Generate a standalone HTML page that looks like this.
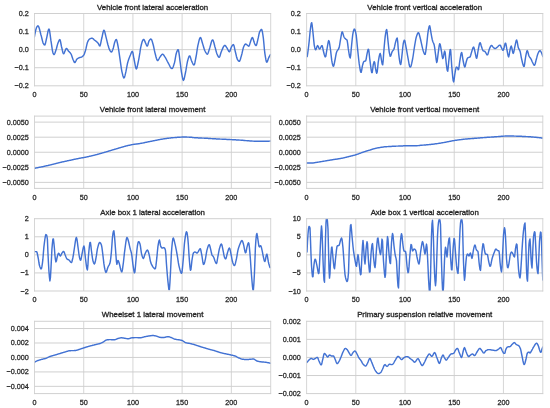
<!DOCTYPE html>
<html lang="en"><head><meta charset="utf-8"><title>Vehicle dynamics signals</title>
<style>
html,body{margin:0;padding:0;background:#fff;}
body{width:550px;height:408px;overflow:hidden;}
svg text{font-family:"Liberation Sans",Arial,Helvetica,sans-serif;fill:#262626;stroke:#262626;stroke-width:0.28px;}
svg text.t{stroke-width:0.32px;}
</style></head><body>
<svg width="550" height="408" viewBox="0 0 550 408" style="display:block">
<rect width="550" height="408" fill="#fff"/>
<defs>
<clipPath id="c1"><rect x="34.50" y="13.50" width="236.20" height="72.30"/></clipPath>
<clipPath id="c2"><rect x="306.60" y="13.50" width="236.20" height="72.30"/></clipPath>
<clipPath id="c3"><rect x="34.50" y="116.10" width="236.20" height="72.30"/></clipPath>
<clipPath id="c4"><rect x="306.60" y="116.10" width="236.20" height="72.30"/></clipPath>
<clipPath id="c5"><rect x="34.50" y="218.70" width="236.20" height="72.30"/></clipPath>
<clipPath id="c6"><rect x="306.60" y="218.70" width="236.20" height="72.30"/></clipPath>
<clipPath id="c7"><rect x="34.50" y="321.30" width="236.20" height="72.30"/></clipPath>
<clipPath id="c8"><rect x="306.60" y="321.30" width="236.20" height="72.30"/></clipPath>
</defs>
<path d="M83.71 13.50V85.80M132.92 13.50V85.80M182.12 13.50V85.80M231.33 13.50V85.80" stroke="#cdcdcd" stroke-width="0.82" fill="none"/>
<path d="M34.50 31.57H270.70M34.50 49.65H270.70M34.50 67.73H270.70" stroke="#cdcdcd" stroke-width="0.95" fill="none"/>
<path d="M34.4 37.0L34.9 34.0L35.4 31.5L35.9 29.5L36.4 27.9L36.9 26.8L37.4 26.1L37.9 25.8L38.4 26.1L38.9 27.2L39.4 28.8L39.9 30.8L40.4 32.8L40.9 34.7L41.4 36.4L41.9 38.5L42.4 40.6L42.9 42.4L43.4 43.7L43.9 44.4L44.4 44.9L44.9 45.0L45.4 43.6L45.9 41.3L46.4 39.0L46.9 36.8L47.4 34.3L47.9 31.8L48.4 29.9L48.9 29.0L49.4 29.9L49.9 32.8L50.4 36.6L50.9 40.4L51.4 43.6L51.9 47.2L52.4 50.5L52.9 52.7L53.4 53.9L53.9 54.6L54.4 54.3L54.9 53.3L55.4 51.8L55.9 50.3L56.4 48.7L56.9 46.8L57.4 44.9L57.9 43.3L58.4 42.0L58.9 40.8L59.4 39.9L59.9 39.6L60.4 41.0L60.9 43.5L61.4 46.2L61.9 48.2L62.4 50.5L62.9 52.5L63.4 53.7L63.9 53.6L64.4 52.5L64.9 51.2L65.4 50.1L65.9 48.9L66.4 48.4L66.9 48.7L67.4 49.4L67.9 50.2L68.4 51.0L68.9 51.6L69.4 52.1L69.9 52.6L70.4 53.1L70.9 53.8L71.4 54.8L71.9 56.3L72.4 57.8L72.9 59.2L73.4 60.3L73.9 61.5L74.4 62.3L74.9 62.6L75.4 62.0L75.9 61.0L76.4 59.9L76.9 59.1L77.4 58.7L77.9 58.3L78.4 58.1L78.9 57.8L79.4 57.7L79.9 57.5L80.4 57.4L80.9 57.3L81.4 57.1L81.9 56.9L82.4 56.5L82.9 56.1L83.4 55.6L83.9 54.9L84.4 53.8L84.9 52.3L85.4 50.7L85.9 48.9L86.4 46.7L86.9 44.4L87.4 42.5L87.9 41.4L88.4 40.4L88.9 39.7L89.4 39.1L89.9 38.8L90.4 38.6L90.9 38.4L91.4 38.3L91.9 38.2L92.4 38.3L92.9 38.6L93.4 39.1L93.9 39.6L94.4 40.0L94.9 40.4L95.4 40.7L95.9 41.1L96.4 41.5L96.9 41.9L97.4 42.4L97.9 43.0L98.4 43.7L98.9 44.6L99.4 45.6L99.9 46.0L100.4 44.7L100.9 42.3L101.4 39.8L101.9 37.8L102.4 35.4L102.9 33.0L103.4 31.1L103.9 30.2L104.4 30.7L104.9 32.3L105.4 34.5L105.9 36.6L106.4 38.6L106.9 40.7L107.4 42.8L107.9 44.7L108.4 46.3L108.9 48.0L109.4 49.4L109.9 50.4L110.4 51.2L110.9 51.8L111.4 52.0L111.9 51.6L112.4 50.5L112.9 49.3L113.4 47.7L113.9 45.5L114.4 43.3L114.9 41.7L115.4 40.5L115.9 39.6L116.4 39.5L116.9 40.8L117.4 43.0L117.9 45.5L118.4 48.1L118.9 51.4L119.4 54.9L119.9 58.3L120.4 61.8L120.9 65.4L121.4 68.8L121.9 71.6L122.4 73.7L122.9 75.7L123.4 77.2L123.9 78.0L124.4 77.5L124.9 75.9L125.4 73.8L125.9 71.7L126.4 69.1L126.9 66.3L127.4 63.8L127.9 61.9L128.4 60.3L128.9 58.8L129.4 57.5L129.9 56.2L130.4 55.0L130.9 53.7L131.4 52.6L131.9 51.7L132.4 51.4L132.9 52.7L133.4 55.6L133.9 58.5L134.4 61.0L134.9 63.7L135.4 66.3L135.9 68.2L136.4 69.0L136.9 68.1L137.4 65.9L137.9 63.5L138.4 61.1L138.9 58.6L139.4 55.7L139.9 52.7L140.4 49.0L140.9 46.7L141.4 44.5L141.9 42.6L142.4 41.1L142.9 40.0L143.4 39.5L143.9 39.5L144.4 40.3L144.9 41.4L145.4 42.6L145.9 43.7L146.4 45.0L146.9 46.0L147.4 46.1L147.9 44.7L148.4 42.7L148.9 41.2L149.4 40.4L149.9 39.7L150.4 39.2L150.9 39.0L151.4 39.3L151.9 40.4L152.4 42.0L152.9 43.7L153.4 45.5L153.9 47.9L154.4 50.4L154.9 52.6L155.4 54.5L155.9 56.5L156.4 58.3L156.9 59.7L157.4 60.5L157.9 60.5L158.4 59.9L158.9 59.0L159.4 58.0L159.9 57.1L160.4 56.5L160.9 55.7L161.4 55.1L161.9 54.5L162.4 54.2L162.9 54.3L163.4 54.7L163.9 55.3L164.4 56.1L164.9 56.9L165.4 57.6L165.9 58.5L166.4 59.5L166.9 60.5L167.4 61.5L167.9 62.4L168.4 63.3L168.9 64.3L169.4 65.3L169.9 66.3L170.4 67.1L170.9 67.9L171.4 68.4L171.9 68.6L172.4 68.4L172.9 67.5L173.4 66.2L173.9 64.6L174.4 63.0L174.9 60.8L175.4 57.9L175.9 55.0L176.4 53.0L176.9 51.6L177.4 50.5L177.9 49.7L178.4 49.9L178.9 52.3L179.4 56.2L179.9 60.3L180.4 64.0L180.9 68.1L181.4 71.8L181.9 74.7L182.4 77.4L182.9 79.5L183.4 80.4L183.9 79.7L184.4 77.8L184.9 75.4L185.4 73.0L185.9 70.4L186.4 67.4L186.9 64.3L187.4 61.8L187.9 59.9L188.4 58.2L188.9 56.7L189.4 55.9L189.9 56.0L190.4 57.2L190.9 58.9L191.4 60.5L191.9 61.6L192.4 62.8L192.9 63.8L193.4 64.6L193.9 65.0L194.4 64.5L194.9 62.7L195.4 60.1L195.9 57.5L196.4 54.8L196.9 51.5L197.4 48.2L197.9 45.4L198.4 43.3L198.9 41.1L199.4 39.2L199.9 37.9L200.4 37.4L200.9 38.0L201.4 39.5L201.9 41.3L202.4 43.0L202.9 44.6L203.4 46.3L203.9 48.0L204.4 49.6L204.9 50.8L205.4 51.8L205.9 52.7L206.4 53.4L206.9 54.0L207.4 54.2L207.9 53.6L208.4 52.3L208.9 50.6L209.4 49.0L209.9 47.4L210.4 45.6L210.9 43.7L211.4 41.9L211.9 40.6L212.4 39.9L212.9 40.0L213.4 41.1L213.9 42.8L214.4 44.8L214.9 46.7L215.4 48.4L215.9 50.4L216.4 52.3L216.9 53.8L217.4 54.9L217.9 55.9L218.4 56.8L218.9 57.3L219.4 57.3L219.9 56.2L220.4 54.5L220.9 52.8L221.4 51.5L221.9 50.3L222.4 49.1L222.9 47.9L223.4 46.9L223.9 46.1L224.4 45.5L224.9 45.4L225.4 45.7L225.9 46.3L226.4 47.1L226.9 47.9L227.4 48.7L227.9 49.7L228.4 50.7L228.9 51.5L229.4 51.8L229.9 51.2L230.4 49.8L230.9 48.2L231.4 47.0L231.9 46.2L232.4 45.4L232.9 44.8L233.4 44.6L233.9 45.4L234.4 47.4L234.9 49.8L235.4 52.0L235.9 54.0L236.4 56.2L236.9 58.1L237.4 59.4L237.9 60.2L238.4 60.9L238.9 61.3L239.4 61.3L239.9 60.5L240.4 59.2L240.9 57.4L241.4 55.7L241.9 53.9L242.4 51.7L242.9 49.4L243.4 47.5L243.9 46.3L244.4 45.3L244.9 44.5L245.4 44.0L245.9 44.1L246.4 44.4L246.9 44.8L247.4 45.3L247.9 45.6L248.4 46.1L248.9 46.2L249.4 45.2L249.9 43.6L250.4 42.0L250.9 40.6L251.4 39.1L251.9 37.9L252.4 37.4L252.9 38.1L253.4 39.7L253.9 41.6L254.4 43.0L254.9 44.1L255.4 45.1L255.9 45.6L256.4 45.2L256.9 43.6L257.4 41.5L257.9 39.4L258.4 37.2L258.9 34.6L259.4 32.5L259.9 31.4L260.4 30.5L260.9 29.8L261.4 29.4L261.9 29.8L262.4 31.9L262.9 35.0L263.4 38.5L263.9 43.8L264.4 49.5L264.9 53.6L265.4 56.9L265.9 59.7L266.4 61.7L266.9 62.2L267.4 61.4L267.9 60.0L268.4 58.5L268.9 57.4L269.4 56.4L269.9 55.5L270.4 54.6" stroke="#4272d3" stroke-width="1.45" fill="none" stroke-linejoin="round" stroke-linecap="round" clip-path="url(#c1)"/>
<path d="M34.50 13.05V86.25M270.70 13.05V86.25" fill="none" stroke="#cdcdcd" stroke-width="0.82"/>
<path d="M34.10 13.50H271.10M34.10 85.80H271.10" fill="none" stroke="#cdcdcd" stroke-width="0.95"/>
<text transform="translate(28.70 16.00) scale(0.95 1)" text-anchor="end" font-size="7.6">0.2</text>
<text transform="translate(28.70 34.08) scale(0.95 1)" text-anchor="end" font-size="7.6">0.1</text>
<text transform="translate(28.70 52.15) scale(0.95 1)" text-anchor="end" font-size="7.6">0.0</text>
<text transform="translate(28.70 70.23) scale(0.95 1)" text-anchor="end" font-size="7.6">−0.1</text>
<text transform="translate(28.70 88.30) scale(0.95 1)" text-anchor="end" font-size="7.6">−0.2</text>
<text transform="translate(34.50 97.10) scale(0.95 1)" text-anchor="middle" font-size="7.6">0</text>
<text transform="translate(83.71 97.10) scale(0.95 1)" text-anchor="middle" font-size="7.6">50</text>
<text transform="translate(132.92 97.10) scale(0.95 1)" text-anchor="middle" font-size="7.6">100</text>
<text transform="translate(182.12 97.10) scale(0.95 1)" text-anchor="middle" font-size="7.6">150</text>
<text transform="translate(231.33 97.10) scale(0.95 1)" text-anchor="middle" font-size="7.6">200</text>
<text transform="translate(152.60 9.60) scale(1.0 1)" text-anchor="middle" class="t" font-size="7.85">Vehicle front lateral acceleration</text>
<path d="M355.81 13.50V85.80M405.02 13.50V85.80M454.23 13.50V85.80M503.43 13.50V85.80" stroke="#cdcdcd" stroke-width="0.82" fill="none"/>
<path d="M306.60 31.57H542.80M306.60 49.65H542.80M306.60 67.73H542.80" stroke="#cdcdcd" stroke-width="0.95" fill="none"/>
<path d="M307.2 56.6L307.7 53.3L308.2 49.6L308.7 45.6L309.2 41.1L309.7 35.7L310.2 30.6L310.7 26.8L311.2 23.6L311.7 22.7L312.2 25.5L312.7 30.2L313.2 34.8L313.7 40.1L314.2 44.8L314.7 47.4L315.2 49.2L315.7 49.8L316.2 48.9L316.7 47.4L317.2 46.0L317.7 45.6L318.2 46.3L318.7 47.6L319.2 48.6L319.7 49.0L320.2 48.5L320.7 47.5L321.2 46.5L321.7 45.7L322.2 45.8L322.7 47.6L323.2 50.3L323.7 52.3L324.2 54.2L324.7 55.9L325.2 56.9L325.7 56.5L326.2 54.0L326.7 50.7L327.2 47.9L327.7 44.9L328.2 42.1L328.7 40.6L329.2 41.4L329.7 44.2L330.2 47.7L330.7 51.3L331.2 55.9L331.7 60.2L332.2 62.9L332.7 65.0L333.2 66.3L333.7 66.0L334.2 64.1L334.7 61.5L335.2 59.0L335.7 56.2L336.2 53.5L336.7 51.8L337.2 50.8L337.7 50.1L338.2 49.5L338.7 48.7L339.2 47.3L339.7 44.6L340.2 41.3L340.7 38.5L341.2 35.6L341.7 32.9L342.2 31.8L342.7 32.6L343.2 34.4L343.7 36.3L344.2 37.3L344.7 38.0L345.2 38.6L345.7 39.1L346.2 39.4L346.7 39.7L347.2 40.6L347.7 43.8L348.2 48.2L348.7 51.5L349.2 54.5L349.7 57.0L350.2 58.0L350.7 55.2L351.2 49.4L351.7 44.1L352.2 39.2L352.7 34.8L353.2 32.1L353.7 30.2L354.2 29.1L354.7 29.2L355.2 30.6L355.7 32.6L356.2 35.2L356.7 39.6L357.2 45.0L357.7 49.9L358.2 54.8L358.7 59.5L359.2 63.7L359.7 66.9L360.2 70.0L360.7 72.2L361.2 72.3L361.7 70.1L362.2 66.9L362.7 64.7L363.2 63.0L363.7 61.7L364.2 61.3L364.7 61.2L365.2 61.1L365.7 60.9L366.2 58.8L366.7 55.6L367.2 53.1L367.7 50.8L368.2 49.2L368.7 49.8L369.2 53.7L369.7 58.6L370.2 62.4L370.7 66.4L371.2 70.1L371.7 72.5L372.2 72.6L372.7 69.1L373.2 65.0L373.7 62.9L374.2 61.6L374.7 62.3L375.2 66.2L375.7 69.5L376.2 71.9L376.7 73.3L377.2 71.9L377.7 67.3L378.2 62.4L378.7 59.3L379.2 56.5L379.7 54.3L380.2 53.4L380.7 55.1L381.2 58.6L381.7 61.5L382.2 64.0L382.7 64.8L383.2 60.3L383.7 52.9L384.2 46.8L384.7 41.2L385.2 36.4L385.7 33.1L386.2 30.3L386.7 29.5L387.2 32.7L387.7 38.1L388.2 42.8L388.7 47.6L389.2 51.8L389.7 54.4L390.2 56.2L390.7 56.1L391.2 54.6L391.7 52.8L392.2 51.6L392.7 50.9L393.2 50.3L393.7 49.6L394.2 48.4L394.7 46.2L395.2 43.6L395.7 41.7L396.2 40.0L396.7 38.6L397.2 38.0L397.7 41.5L398.2 48.5L398.7 53.8L399.2 57.8L399.7 61.4L400.2 63.9L400.7 64.5L401.2 62.0L401.7 57.6L402.2 53.2L402.7 48.0L403.2 44.0L403.7 41.7L404.2 40.2L404.7 40.4L405.2 42.5L405.7 45.4L406.2 48.0L406.7 50.7L407.2 53.6L407.7 56.4L408.2 59.1L408.7 62.0L409.2 64.8L409.7 66.6L410.2 67.0L410.7 66.8L411.2 65.5L411.7 63.4L412.2 61.0L412.7 58.5L413.2 55.5L413.7 52.0L414.2 48.5L414.7 45.4L415.2 42.5L415.7 39.7L416.2 37.4L416.7 35.7L417.2 34.4L417.7 33.3L418.2 32.7L418.7 32.9L419.2 34.1L419.7 36.0L420.2 38.0L420.7 40.0L421.2 42.4L421.7 44.7L422.2 46.8L422.7 48.9L423.2 50.8L423.7 52.3L424.2 53.5L424.7 54.4L425.2 54.3L425.7 51.9L426.2 48.1L426.7 44.2L427.2 39.6L427.7 34.7L428.2 31.0L428.7 28.3L429.2 26.2L429.7 25.7L430.2 27.8L430.7 31.2L431.2 34.1L431.7 36.8L432.2 39.4L432.7 41.3L433.2 42.5L433.7 43.5L434.2 45.0L434.7 47.9L435.2 52.0L435.7 55.7L436.2 59.8L436.7 62.5L437.2 61.2L437.7 57.1L438.2 53.0L438.7 49.3L439.2 45.7L439.7 43.7L440.2 44.4L440.7 46.9L441.2 49.9L441.7 52.8L442.2 56.3L442.7 58.5L443.2 57.8L443.7 55.4L444.2 52.6L444.7 51.1L445.2 52.8L445.7 58.0L446.2 63.0L446.7 66.9L447.2 70.3L447.7 71.3L448.2 67.7L448.7 61.9L449.2 57.3L449.7 52.6L450.2 49.4L450.7 50.6L451.2 57.9L451.7 65.9L452.2 71.4L452.7 76.8L453.2 80.8L453.7 81.9L454.2 79.2L454.7 75.0L455.2 71.9L455.7 69.1L456.2 67.2L456.7 67.1L457.2 67.5L457.7 68.2L458.2 69.7L458.7 69.2L459.2 65.6L459.7 61.6L460.2 58.6L460.7 55.5L461.2 53.1L461.7 52.5L462.2 54.7L462.7 58.3L463.2 61.0L463.7 63.5L464.2 65.8L464.7 67.0L465.2 66.3L465.7 64.1L466.2 62.0L466.7 60.3L467.2 58.7L467.7 57.9L468.2 57.7L468.7 57.5L469.2 57.4L469.7 57.2L470.2 56.7L470.7 55.3L471.2 53.4L471.7 51.7L472.2 50.1L472.7 48.5L473.2 47.3L473.7 47.0L474.2 48.4L474.7 50.7L475.2 52.9L475.7 55.4L476.2 57.7L476.7 58.3L477.2 56.4L477.7 53.0L478.2 50.0L478.7 47.4L479.2 44.8L479.7 43.0L480.2 42.7L480.7 43.9L481.2 45.7L481.7 47.3L482.2 48.8L482.7 50.1L483.2 50.8L483.7 51.0L484.2 51.2L484.7 51.4L485.2 51.8L485.7 52.6L486.2 53.5L486.7 54.4L487.2 54.9L487.7 54.7L488.2 53.3L488.7 51.4L489.2 49.5L489.7 48.3L490.2 47.1L490.7 46.1L491.2 45.5L491.7 45.5L492.2 45.9L492.7 46.6L493.2 47.2L493.7 47.7L494.2 48.2L494.7 48.5L495.2 48.6L495.7 48.4L496.2 48.0L496.7 47.6L497.2 47.2L497.7 46.8L498.2 46.3L498.7 45.8L499.2 45.3L499.7 45.1L500.2 45.1L500.7 45.9L501.2 47.1L501.7 48.2L502.2 49.3L502.7 50.2L503.2 50.3L503.7 49.1L504.2 47.2L504.7 45.1L505.2 43.1L505.7 43.1L506.2 45.4L506.7 48.4L507.2 51.0L507.7 53.8L508.2 56.2L508.7 56.9L509.2 54.8L509.7 51.6L510.2 49.2L510.7 47.0L511.2 46.0L511.7 47.2L512.2 49.7L512.7 52.2L513.2 53.4L513.7 52.4L514.2 50.1L514.7 47.4L515.2 45.1L515.7 42.7L516.2 40.6L516.7 40.1L517.2 41.7L517.7 44.6L518.2 47.3L518.7 48.7L519.2 49.5L519.7 50.3L520.2 51.7L520.7 54.2L521.2 57.1L521.7 59.4L522.2 61.5L522.7 63.6L523.2 65.3L523.7 66.4L524.2 66.3L524.7 63.5L525.2 59.6L525.7 56.5L526.2 53.8L526.7 51.6L527.2 50.6L527.7 51.4L528.2 53.3L528.7 55.2L529.2 56.4L529.7 57.2L530.2 57.8L530.7 58.5L531.2 59.4L531.7 60.5L532.2 61.8L532.7 62.8L533.2 63.8L533.7 64.8L534.2 65.3L534.7 65.1L535.2 63.8L535.7 61.8L536.2 59.7L536.7 57.9L537.2 55.9L537.7 54.2L538.2 53.0L538.7 52.0L539.2 51.2L539.7 50.7L540.2 50.7L540.7 51.2L541.2 52.2L541.7 53.2L542.2 54.6L542.7 56.2L542.8 56.6" stroke="#4272d3" stroke-width="1.45" fill="none" stroke-linejoin="round" stroke-linecap="round" clip-path="url(#c2)"/>
<path d="M306.60 13.05V86.25M542.80 13.05V86.25" fill="none" stroke="#cdcdcd" stroke-width="0.82"/>
<path d="M306.20 13.50H543.20M306.20 85.80H543.20" fill="none" stroke="#cdcdcd" stroke-width="0.95"/>
<text transform="translate(300.80 16.00) scale(0.95 1)" text-anchor="end" font-size="7.6">0.2</text>
<text transform="translate(300.80 34.08) scale(0.95 1)" text-anchor="end" font-size="7.6">0.1</text>
<text transform="translate(300.80 52.15) scale(0.95 1)" text-anchor="end" font-size="7.6">0.0</text>
<text transform="translate(300.80 70.23) scale(0.95 1)" text-anchor="end" font-size="7.6">−0.1</text>
<text transform="translate(300.80 88.30) scale(0.95 1)" text-anchor="end" font-size="7.6">−0.2</text>
<text transform="translate(306.60 97.10) scale(0.95 1)" text-anchor="middle" font-size="7.6">0</text>
<text transform="translate(355.81 97.10) scale(0.95 1)" text-anchor="middle" font-size="7.6">50</text>
<text transform="translate(405.02 97.10) scale(0.95 1)" text-anchor="middle" font-size="7.6">100</text>
<text transform="translate(454.23 97.10) scale(0.95 1)" text-anchor="middle" font-size="7.6">150</text>
<text transform="translate(503.43 97.10) scale(0.95 1)" text-anchor="middle" font-size="7.6">200</text>
<text transform="translate(424.70 9.60) scale(1.0 1)" text-anchor="middle" class="t" font-size="7.85">Vehicle front vertical acceleration</text>
<path d="M83.71 116.10V188.40M132.92 116.10V188.40M182.12 116.10V188.40M231.33 116.10V188.40" stroke="#cdcdcd" stroke-width="0.82" fill="none"/>
<path d="M34.50 122.12H270.70M34.50 137.19H270.70M34.50 152.25H270.70M34.50 167.31H270.70M34.50 182.38H270.70" stroke="#cdcdcd" stroke-width="0.95" fill="none"/>
<path d="M34.5 168.3L35.0 168.2L35.5 168.1L36.0 168.0L36.5 167.9L37.0 167.8L37.5 167.7L38.0 167.6L38.5 167.5L39.0 167.4L39.5 167.3L40.0 167.2L40.5 167.1L41.0 167.0L41.5 166.9L42.0 166.8L42.5 166.7L43.0 166.6L43.5 166.5L44.0 166.3L44.5 166.2L45.0 166.1L45.5 166.0L46.0 165.9L46.5 165.8L47.0 165.7L47.5 165.6L48.0 165.5L48.5 165.3L49.0 165.2L49.5 165.1L50.0 165.0L50.5 164.9L51.0 164.8L51.5 164.6L52.0 164.5L52.5 164.4L53.0 164.3L53.5 164.1L54.0 164.0L54.5 163.9L55.0 163.8L55.5 163.6L56.0 163.5L56.5 163.4L57.0 163.2L57.5 163.1L58.0 163.0L58.5 162.9L59.0 162.7L59.5 162.6L60.0 162.5L60.5 162.4L61.0 162.3L61.5 162.2L62.0 162.0L62.5 161.9L63.0 161.8L63.5 161.7L64.0 161.6L64.5 161.5L65.0 161.4L65.5 161.3L66.0 161.2L66.5 161.1L67.0 160.9L67.5 160.8L68.0 160.7L68.5 160.6L69.0 160.5L69.5 160.4L70.0 160.3L70.5 160.2L71.0 160.1L71.5 160.0L72.0 159.9L72.5 159.8L73.0 159.7L73.5 159.5L74.0 159.4L74.5 159.3L75.0 159.2L75.5 159.1L76.0 159.0L76.5 158.9L77.0 158.8L77.5 158.7L78.0 158.6L78.5 158.5L79.0 158.4L79.5 158.3L80.0 158.2L80.5 158.1L81.0 158.0L81.5 157.9L82.0 157.8L82.5 157.8L83.0 157.7L83.5 157.6L84.0 157.5L84.5 157.4L85.0 157.3L85.5 157.2L86.0 157.1L86.5 157.0L87.0 156.9L87.5 156.8L88.0 156.7L88.5 156.6L89.0 156.4L89.5 156.3L90.0 156.2L90.5 156.1L91.0 156.0L91.5 155.9L92.0 155.7L92.5 155.6L93.0 155.5L93.5 155.4L94.0 155.3L94.5 155.1L95.0 155.0L95.5 154.9L96.0 154.7L96.5 154.6L97.0 154.5L97.5 154.3L98.0 154.2L98.5 154.1L99.0 153.9L99.5 153.8L100.0 153.6L100.5 153.5L101.0 153.4L101.5 153.2L102.0 153.1L102.5 152.9L103.0 152.8L103.5 152.6L104.0 152.5L104.5 152.3L105.0 152.2L105.5 152.1L106.0 151.9L106.5 151.8L107.0 151.6L107.5 151.5L108.0 151.3L108.5 151.2L109.0 151.0L109.5 150.9L110.0 150.7L110.5 150.6L111.0 150.4L111.5 150.3L112.0 150.1L112.5 149.9L113.0 149.8L113.5 149.6L114.0 149.5L114.5 149.3L115.0 149.2L115.5 149.1L116.0 148.9L116.5 148.8L117.0 148.6L117.5 148.5L118.0 148.3L118.5 148.2L119.0 148.0L119.5 147.9L120.0 147.7L120.5 147.6L121.0 147.4L121.5 147.3L122.0 147.1L122.5 147.0L123.0 146.8L123.5 146.7L124.0 146.6L124.5 146.4L125.0 146.3L125.5 146.2L126.0 146.0L126.5 145.9L127.0 145.8L127.5 145.7L128.0 145.5L128.5 145.4L129.0 145.3L129.5 145.2L130.0 145.1L130.5 145.0L131.0 144.8L131.5 144.7L132.0 144.6L132.5 144.6L133.0 144.5L133.5 144.4L134.0 144.3L134.5 144.2L135.0 144.2L135.5 144.1L136.0 144.0L136.5 144.0L137.0 143.9L137.5 143.9L138.0 143.8L138.5 143.7L139.0 143.7L139.5 143.6L140.0 143.5L140.5 143.4L141.0 143.3L141.5 143.2L142.0 143.1L142.5 143.1L143.0 143.0L143.5 142.9L144.0 142.8L144.5 142.7L145.0 142.5L145.5 142.4L146.0 142.3L146.5 142.2L147.0 142.1L147.5 142.0L148.0 141.9L148.5 141.8L149.0 141.7L149.5 141.6L150.0 141.5L150.5 141.4L151.0 141.3L151.5 141.2L152.0 141.1L152.5 141.0L153.0 140.9L153.5 140.8L154.0 140.7L154.5 140.6L155.0 140.5L155.5 140.4L156.0 140.3L156.5 140.2L157.0 140.1L157.5 140.0L158.0 139.9L158.5 139.8L159.0 139.7L159.5 139.6L160.0 139.5L160.5 139.4L161.0 139.3L161.5 139.2L162.0 139.2L162.5 139.1L163.0 139.0L163.5 138.9L164.0 138.8L164.5 138.8L165.0 138.7L165.5 138.6L166.0 138.5L166.5 138.4L167.0 138.4L167.5 138.3L168.0 138.2L168.5 138.2L169.0 138.1L169.5 138.1L170.0 138.0L170.5 137.9L171.0 137.9L171.5 137.8L172.0 137.8L172.5 137.7L173.0 137.7L173.5 137.6L174.0 137.6L174.5 137.6L175.0 137.5L175.5 137.5L176.0 137.4L176.5 137.4L177.0 137.4L177.5 137.3L178.0 137.3L178.5 137.3L179.0 137.2L179.5 137.2L180.0 137.2L180.5 137.1L181.0 137.1L181.5 137.1L182.0 137.0L182.5 137.0L183.0 137.0L183.5 137.0L184.0 137.0L184.5 137.0L185.0 137.0L185.5 137.0L186.0 137.0L186.5 137.0L187.0 137.1L187.5 137.1L188.0 137.1L188.5 137.1L189.0 137.1L189.5 137.2L190.0 137.2L190.5 137.2L191.0 137.3L191.5 137.3L192.0 137.4L192.5 137.4L193.0 137.5L193.5 137.6L194.0 137.6L194.5 137.7L195.0 137.7L195.5 137.7L196.0 137.8L196.5 137.8L197.0 137.8L197.5 137.8L198.0 137.9L198.5 137.9L199.0 137.9L199.5 137.9L200.0 138.0L200.5 138.0L201.0 138.0L201.5 138.0L202.0 138.1L202.5 138.1L203.0 138.1L203.5 138.1L204.0 138.1L204.5 138.2L205.0 138.2L205.5 138.2L206.0 138.3L206.5 138.3L207.0 138.3L207.5 138.3L208.0 138.4L208.5 138.4L209.0 138.4L209.5 138.5L210.0 138.5L210.5 138.5L211.0 138.6L211.5 138.6L212.0 138.6L212.5 138.7L213.0 138.7L213.5 138.7L214.0 138.7L214.5 138.8L215.0 138.8L215.5 138.8L216.0 138.9L216.5 138.9L217.0 138.9L217.5 138.9L218.0 139.0L218.5 139.0L219.0 139.0L219.5 139.0L220.0 139.1L220.5 139.1L221.0 139.1L221.5 139.1L222.0 139.2L222.5 139.2L223.0 139.2L223.5 139.2L224.0 139.3L224.5 139.3L225.0 139.3L225.5 139.3L226.0 139.3L226.5 139.4L227.0 139.4L227.5 139.4L228.0 139.4L228.5 139.5L229.0 139.5L229.5 139.5L230.0 139.5L230.5 139.6L231.0 139.6L231.5 139.6L232.0 139.6L232.5 139.7L233.0 139.7L233.5 139.7L234.0 139.7L234.5 139.8L235.0 139.8L235.5 139.8L236.0 139.9L236.5 139.9L237.0 139.9L237.5 139.9L238.0 140.0L238.5 140.0L239.0 140.0L239.5 140.1L240.0 140.1L240.5 140.1L241.0 140.2L241.5 140.2L242.0 140.2L242.5 140.3L243.0 140.3L243.5 140.4L244.0 140.4L244.5 140.5L245.0 140.5L245.5 140.6L246.0 140.6L246.5 140.6L247.0 140.7L247.5 140.7L248.0 140.8L248.5 140.8L249.0 140.8L249.5 140.9L250.0 140.9L250.5 140.9L251.0 141.0L251.5 141.0L252.0 141.0L252.5 141.1L253.0 141.1L253.5 141.1L254.0 141.2L254.5 141.2L255.0 141.2L255.5 141.2L256.0 141.3L256.5 141.3L257.0 141.3L257.5 141.3L258.0 141.3L258.5 141.3L259.0 141.3L259.5 141.3L260.0 141.3L260.5 141.3L261.0 141.3L261.5 141.3L262.0 141.3L262.5 141.3L263.0 141.3L263.5 141.3L264.0 141.3L264.5 141.3L265.0 141.3L265.5 141.3L266.0 141.3L266.5 141.3L267.0 141.2L267.5 141.2L268.0 141.2L268.5 141.2L269.0 141.1L269.5 141.1L270.0 141.1L270.5 141.0L270.7 141.0" stroke="#4272d3" stroke-width="1.45" fill="none" stroke-linejoin="round" stroke-linecap="round" clip-path="url(#c3)"/>
<path d="M34.50 115.65V188.85M270.70 115.65V188.85" fill="none" stroke="#cdcdcd" stroke-width="0.82"/>
<path d="M34.10 116.10H271.10M34.10 188.40H271.10" fill="none" stroke="#cdcdcd" stroke-width="0.95"/>
<text transform="translate(28.70 124.62) scale(0.95 1)" text-anchor="end" font-size="7.6">0.0050</text>
<text transform="translate(28.70 139.69) scale(0.95 1)" text-anchor="end" font-size="7.6">0.0025</text>
<text transform="translate(28.70 154.75) scale(0.95 1)" text-anchor="end" font-size="7.6">0.0000</text>
<text transform="translate(28.70 169.81) scale(0.95 1)" text-anchor="end" font-size="7.6">−0.0025</text>
<text transform="translate(28.70 184.88) scale(0.95 1)" text-anchor="end" font-size="7.6">−0.0050</text>
<text transform="translate(34.50 199.70) scale(0.95 1)" text-anchor="middle" font-size="7.6">0</text>
<text transform="translate(83.71 199.70) scale(0.95 1)" text-anchor="middle" font-size="7.6">50</text>
<text transform="translate(132.92 199.70) scale(0.95 1)" text-anchor="middle" font-size="7.6">100</text>
<text transform="translate(182.12 199.70) scale(0.95 1)" text-anchor="middle" font-size="7.6">150</text>
<text transform="translate(231.33 199.70) scale(0.95 1)" text-anchor="middle" font-size="7.6">200</text>
<text transform="translate(152.60 112.20) scale(1.0 1)" text-anchor="middle" class="t" font-size="7.85">Vehicle front lateral movement</text>
<path d="M355.81 116.10V188.40M405.02 116.10V188.40M454.23 116.10V188.40M503.43 116.10V188.40" stroke="#cdcdcd" stroke-width="0.82" fill="none"/>
<path d="M306.60 122.12H542.80M306.60 137.19H542.80M306.60 152.25H542.80M306.60 167.31H542.80M306.60 182.38H542.80" stroke="#cdcdcd" stroke-width="0.95" fill="none"/>
<path d="M306.6 163.0L307.1 163.0L307.6 163.0L308.1 163.0L308.6 163.0L309.1 163.0L309.6 163.0L310.1 163.0L310.6 163.0L311.1 163.0L311.6 163.0L312.1 163.0L312.6 163.0L313.1 162.9L313.6 162.9L314.1 162.8L314.6 162.7L315.1 162.6L315.6 162.5L316.1 162.5L316.6 162.4L317.1 162.3L317.6 162.2L318.1 162.1L318.6 162.1L319.1 162.0L319.6 161.9L320.1 161.8L320.6 161.7L321.1 161.6L321.6 161.6L322.1 161.5L322.6 161.4L323.1 161.3L323.6 161.2L324.1 161.1L324.6 161.1L325.1 161.0L325.6 160.9L326.1 160.8L326.6 160.7L327.1 160.6L327.6 160.5L328.1 160.5L328.6 160.4L329.1 160.3L329.6 160.2L330.1 160.1L330.6 160.0L331.1 159.9L331.6 159.9L332.1 159.8L332.6 159.7L333.1 159.6L333.6 159.5L334.1 159.5L334.6 159.4L335.1 159.3L335.6 159.2L336.1 159.2L336.6 159.1L337.1 159.0L337.6 158.9L338.1 158.9L338.6 158.8L339.1 158.7L339.6 158.6L340.1 158.5L340.6 158.5L341.1 158.4L341.6 158.3L342.1 158.2L342.6 158.1L343.1 158.0L343.6 157.9L344.1 157.8L344.6 157.6L345.1 157.5L345.6 157.4L346.1 157.3L346.6 157.2L347.1 157.0L347.6 156.9L348.1 156.8L348.6 156.7L349.1 156.5L349.6 156.4L350.1 156.3L350.6 156.2L351.1 156.0L351.6 155.9L352.1 155.8L352.6 155.7L353.1 155.5L353.6 155.4L354.1 155.3L354.6 155.1L355.1 155.0L355.6 154.8L356.1 154.7L356.6 154.5L357.1 154.3L357.6 154.1L358.1 154.0L358.6 153.8L359.1 153.6L359.6 153.4L360.1 153.3L360.6 153.1L361.1 152.9L361.6 152.7L362.1 152.5L362.6 152.3L363.1 152.2L363.6 152.0L364.1 151.8L364.6 151.6L365.1 151.5L365.6 151.3L366.1 151.2L366.6 151.0L367.1 150.9L367.6 150.7L368.1 150.6L368.6 150.4L369.1 150.3L369.6 150.1L370.1 150.0L370.6 149.8L371.1 149.7L371.6 149.5L372.1 149.3L372.6 149.2L373.1 149.0L373.6 148.9L374.1 148.7L374.6 148.6L375.1 148.5L375.6 148.4L376.1 148.2L376.6 148.1L377.1 148.0L377.6 147.9L378.1 147.8L378.6 147.7L379.1 147.7L379.6 147.6L380.1 147.5L380.6 147.4L381.1 147.3L381.6 147.2L382.1 147.2L382.6 147.1L383.1 147.0L383.6 147.0L384.1 146.9L384.6 146.8L385.1 146.8L385.6 146.7L386.1 146.7L386.6 146.7L387.1 146.6L387.6 146.6L388.1 146.6L388.6 146.5L389.1 146.5L389.6 146.5L390.1 146.4L390.6 146.4L391.1 146.4L391.6 146.4L392.1 146.3L392.6 146.3L393.1 146.3L393.6 146.3L394.1 146.2L394.6 146.2L395.1 146.2L395.6 146.2L396.1 146.1L396.6 146.1L397.1 146.1L397.6 146.1L398.1 146.1L398.6 146.0L399.1 146.0L399.6 146.0L400.1 146.0L400.6 145.9L401.1 145.9L401.6 145.9L402.1 145.9L402.6 145.9L403.1 145.9L403.6 145.8L404.1 145.8L404.6 145.8L405.1 145.8L405.6 145.8L406.1 145.8L406.6 145.8L407.1 145.7L407.6 145.7L408.1 145.7L408.6 145.7L409.1 145.7L409.6 145.7L410.1 145.7L410.6 145.7L411.1 145.7L411.6 145.7L412.1 145.7L412.6 145.7L413.1 145.7L413.6 145.7L414.1 145.7L414.6 145.7L415.1 145.7L415.6 145.7L416.1 145.7L416.6 145.7L417.1 145.7L417.6 145.6L418.1 145.6L418.6 145.6L419.1 145.5L419.6 145.4L420.1 145.4L420.6 145.3L421.1 145.3L421.6 145.2L422.1 145.2L422.6 145.1L423.1 145.1L423.6 145.1L424.1 145.0L424.6 145.0L425.1 144.9L425.6 144.9L426.1 144.9L426.6 144.8L427.1 144.8L427.6 144.7L428.1 144.7L428.6 144.6L429.1 144.6L429.6 144.5L430.1 144.5L430.6 144.4L431.1 144.4L431.6 144.3L432.1 144.3L432.6 144.2L433.1 144.2L433.6 144.1L434.1 144.0L434.6 144.0L435.1 143.9L435.6 143.8L436.1 143.8L436.6 143.7L437.1 143.6L437.6 143.6L438.1 143.5L438.6 143.4L439.1 143.3L439.6 143.3L440.1 143.2L440.6 143.1L441.1 143.0L441.6 142.9L442.1 142.8L442.6 142.7L443.1 142.6L443.6 142.6L444.1 142.5L444.6 142.4L445.1 142.3L445.6 142.2L446.1 142.1L446.6 142.0L447.1 141.9L447.6 141.8L448.1 141.7L448.6 141.6L449.1 141.5L449.6 141.4L450.1 141.3L450.6 141.2L451.1 141.1L451.6 141.0L452.1 140.9L452.6 140.8L453.1 140.7L453.6 140.6L454.1 140.6L454.6 140.5L455.1 140.4L455.6 140.3L456.1 140.3L456.6 140.2L457.1 140.1L457.6 140.0L458.1 140.0L458.6 139.9L459.1 139.8L459.6 139.8L460.1 139.7L460.6 139.6L461.1 139.6L461.6 139.5L462.1 139.4L462.6 139.4L463.1 139.3L463.6 139.2L464.1 139.2L464.6 139.1L465.1 139.1L465.6 139.0L466.1 139.0L466.6 139.0L467.1 138.9L467.6 138.9L468.1 138.8L468.6 138.8L469.1 138.7L469.6 138.7L470.1 138.7L470.6 138.6L471.1 138.6L471.6 138.6L472.1 138.5L472.6 138.5L473.1 138.4L473.6 138.4L474.1 138.4L474.6 138.3L475.1 138.3L475.6 138.3L476.1 138.2L476.6 138.2L477.1 138.1L477.6 138.1L478.1 138.0L478.6 138.0L479.1 138.0L479.6 137.9L480.1 137.9L480.6 137.8L481.1 137.8L481.6 137.8L482.1 137.7L482.6 137.7L483.1 137.6L483.6 137.6L484.1 137.6L484.6 137.5L485.1 137.5L485.6 137.5L486.1 137.4L486.6 137.4L487.1 137.3L487.6 137.3L488.1 137.3L488.6 137.2L489.1 137.2L489.6 137.2L490.1 137.1L490.6 137.1L491.1 137.1L491.6 137.0L492.1 137.0L492.6 137.0L493.1 136.9L493.6 136.9L494.1 136.9L494.6 136.8L495.1 136.8L495.6 136.8L496.1 136.7L496.6 136.7L497.1 136.6L497.6 136.6L498.1 136.6L498.6 136.5L499.1 136.5L499.6 136.4L500.1 136.4L500.6 136.4L501.1 136.3L501.6 136.3L502.1 136.2L502.6 136.2L503.1 136.2L503.6 136.1L504.1 136.1L504.6 136.1L505.1 136.0L505.6 136.0L506.1 136.0L506.6 135.9L507.1 135.9L507.6 135.9L508.1 135.9L508.6 135.9L509.1 135.9L509.6 135.9L510.1 135.9L510.6 135.9L511.1 136.0L511.6 136.0L512.1 136.0L512.6 136.0L513.1 136.0L513.6 136.0L514.1 136.1L514.6 136.1L515.1 136.1L515.6 136.1L516.1 136.1L516.6 136.2L517.1 136.2L517.6 136.2L518.1 136.2L518.6 136.2L519.1 136.2L519.6 136.3L520.1 136.3L520.6 136.3L521.1 136.3L521.6 136.3L522.1 136.4L522.6 136.4L523.1 136.4L523.6 136.4L524.1 136.5L524.6 136.5L525.1 136.5L525.6 136.5L526.1 136.6L526.6 136.6L527.1 136.6L527.6 136.6L528.1 136.7L528.6 136.7L529.1 136.7L529.6 136.8L530.1 136.8L530.6 136.8L531.1 136.9L531.6 136.9L532.1 137.0L532.6 137.0L533.1 137.0L533.6 137.1L534.1 137.1L534.6 137.2L535.1 137.2L535.6 137.3L536.1 137.3L536.6 137.4L537.1 137.4L537.6 137.5L538.1 137.5L538.6 137.6L539.1 137.6L539.6 137.7L540.1 137.7L540.6 137.8L541.1 137.9L541.6 137.9L542.1 138.0L542.6 138.1L542.8 138.1" stroke="#4272d3" stroke-width="1.45" fill="none" stroke-linejoin="round" stroke-linecap="round" clip-path="url(#c4)"/>
<path d="M306.60 115.65V188.85M542.80 115.65V188.85" fill="none" stroke="#cdcdcd" stroke-width="0.82"/>
<path d="M306.20 116.10H543.20M306.20 188.40H543.20" fill="none" stroke="#cdcdcd" stroke-width="0.95"/>
<text transform="translate(300.80 124.62) scale(0.95 1)" text-anchor="end" font-size="7.6">0.0050</text>
<text transform="translate(300.80 139.69) scale(0.95 1)" text-anchor="end" font-size="7.6">0.0025</text>
<text transform="translate(300.80 154.75) scale(0.95 1)" text-anchor="end" font-size="7.6">0.0000</text>
<text transform="translate(300.80 169.81) scale(0.95 1)" text-anchor="end" font-size="7.6">−0.0025</text>
<text transform="translate(300.80 184.88) scale(0.95 1)" text-anchor="end" font-size="7.6">−0.0050</text>
<text transform="translate(306.60 199.70) scale(0.95 1)" text-anchor="middle" font-size="7.6">0</text>
<text transform="translate(355.81 199.70) scale(0.95 1)" text-anchor="middle" font-size="7.6">50</text>
<text transform="translate(405.02 199.70) scale(0.95 1)" text-anchor="middle" font-size="7.6">100</text>
<text transform="translate(454.23 199.70) scale(0.95 1)" text-anchor="middle" font-size="7.6">150</text>
<text transform="translate(503.43 199.70) scale(0.95 1)" text-anchor="middle" font-size="7.6">200</text>
<text transform="translate(424.70 112.20) scale(1.0 1)" text-anchor="middle" class="t" font-size="7.85">Vehicle front vertical movement</text>
<path d="M83.71 218.70V291.00M132.92 218.70V291.00M182.12 218.70V291.00M231.33 218.70V291.00" stroke="#cdcdcd" stroke-width="0.82" fill="none"/>
<path d="M34.50 236.77H270.70M34.50 254.85H270.70M34.50 272.92H270.70" stroke="#cdcdcd" stroke-width="0.95" fill="none"/>
<path d="M34.4 251.6L34.9 251.6L35.4 251.6L35.9 251.6L36.4 251.6L36.9 252.0L37.4 254.0L37.9 256.5L38.4 259.2L38.9 262.5L39.4 265.3L39.9 266.8L40.4 268.1L40.9 268.9L41.4 268.8L41.9 266.7L42.4 263.4L42.9 259.2L43.4 252.8L43.9 246.9L44.4 242.8L44.9 239.0L45.4 236.1L45.9 234.6L46.4 234.9L46.9 236.0L47.4 239.4L47.9 251.8L48.4 262.0L48.9 270.7L49.4 276.9L49.9 280.9L50.4 277.9L50.9 269.6L51.4 259.8L51.9 249.4L52.4 243.5L52.9 239.2L53.4 238.9L53.9 243.0L54.4 248.2L54.9 255.0L55.4 259.4L55.9 261.9L56.4 261.0L56.9 258.3L57.4 256.3L57.9 254.5L58.4 253.3L58.9 253.4L59.4 254.4L59.9 255.5L60.4 256.0L60.9 255.4L61.4 254.3L61.9 253.1L62.4 252.5L62.9 251.8L63.4 251.4L63.9 251.6L64.4 252.8L64.9 254.2L65.4 255.5L65.9 256.8L66.4 258.0L66.9 258.9L67.4 259.3L67.9 259.5L68.4 259.7L68.9 259.9L69.4 260.4L69.9 261.1L70.4 261.8L70.9 262.4L71.4 262.6L71.9 261.8L72.4 259.8L72.9 257.5L73.4 254.8L73.9 251.3L74.4 248.0L74.9 244.7L75.4 241.2L75.9 238.5L76.4 237.4L76.9 238.9L77.4 242.4L77.9 246.3L78.4 250.0L78.9 254.0L79.4 257.0L79.9 259.0L80.4 260.3L80.9 259.9L81.4 257.4L81.9 254.5L82.4 252.1L82.9 249.4L83.4 247.2L83.9 246.0L84.4 247.8L84.9 253.0L85.4 258.0L85.9 261.9L86.4 265.8L86.9 268.8L87.4 270.0L87.9 265.2L88.4 256.5L88.9 251.0L89.4 246.1L89.9 242.7L90.4 242.4L90.9 245.8L91.4 250.5L91.9 254.2L92.4 257.8L92.9 260.6L93.4 262.3L93.9 263.5L94.4 264.0L94.9 263.1L95.4 261.0L95.9 258.5L96.4 255.7L96.9 252.1L97.4 248.9L97.9 246.9L98.4 245.1L98.9 243.6L99.4 242.7L99.9 242.4L100.4 242.9L100.9 243.8L101.4 245.0L101.9 247.4L102.4 251.2L102.9 255.2L103.4 259.3L103.9 263.7L104.4 267.0L104.9 269.4L105.4 271.4L105.9 272.4L106.4 272.0L106.9 270.6L107.4 268.8L107.9 267.2L108.4 266.2L108.9 265.4L109.4 264.5L109.9 263.3L110.4 261.0L110.9 256.9L111.4 252.0L111.9 245.1L112.4 237.8L112.9 234.0L113.4 231.4L113.9 230.8L114.4 235.1L114.9 241.1L115.4 247.9L115.9 254.8L116.4 261.4L116.9 264.3L117.4 262.4L117.9 260.5L118.4 260.9L118.9 262.3L119.4 264.0L119.9 266.0L120.4 268.3L120.9 270.0L121.4 271.5L121.9 271.9L122.4 269.9L122.9 266.2L123.4 262.5L123.9 258.0L124.4 253.2L124.9 249.3L125.4 245.5L125.9 241.8L126.4 238.9L126.9 237.4L127.4 237.9L127.9 239.3L128.4 241.0L128.9 243.0L129.4 245.3L129.9 247.6L130.4 249.5L130.9 251.1L131.4 253.0L131.9 255.9L132.4 260.2L132.9 264.3L133.4 267.6L133.9 270.8L134.4 272.8L134.9 272.0L135.4 267.0L135.9 261.0L136.4 255.7L136.9 250.1L137.4 246.0L137.9 243.3L138.4 241.6L138.9 241.6L139.4 242.4L139.9 243.7L140.4 245.9L140.9 249.6L141.4 253.1L141.9 255.1L142.4 256.7L142.9 257.9L143.4 258.4L143.9 257.6L144.4 255.9L144.9 254.2L145.4 253.1L145.9 252.0L146.4 251.0L146.9 250.3L147.4 250.0L147.9 250.6L148.4 252.0L148.9 253.7L149.4 255.8L149.9 258.6L150.4 261.3L150.9 262.9L151.4 264.1L151.9 265.2L152.4 266.0L152.9 266.8L153.4 267.5L153.9 268.1L154.4 268.6L154.9 268.9L155.4 268.7L155.9 265.9L156.4 261.6L156.9 257.2L157.4 251.5L157.9 246.7L158.4 243.6L158.9 241.1L159.4 240.0L159.9 242.0L160.4 245.2L160.9 246.7L161.4 247.5L161.9 248.0L162.4 248.0L162.9 247.8L163.4 247.7L163.9 247.6L164.4 247.8L164.9 248.7L165.4 250.0L165.9 255.0L166.4 263.2L166.9 269.7L167.4 275.8L167.9 281.1L168.4 285.7L168.9 289.6L169.4 289.6L169.9 282.9L170.4 274.0L170.9 263.6L171.4 252.9L171.9 246.7L172.4 241.8L172.9 238.6L173.4 238.1L173.9 239.4L174.4 241.4L174.9 243.6L175.4 245.7L175.9 248.1L176.4 250.7L176.9 253.5L177.4 256.4L177.9 259.7L178.4 262.9L178.9 265.6L179.4 267.6L179.9 269.6L180.4 271.3L180.9 272.6L181.4 273.3L181.9 272.6L182.4 268.7L182.9 263.3L183.4 257.7L183.9 250.5L184.4 243.9L184.9 239.7L185.4 236.2L185.9 233.3L186.4 231.8L186.9 232.2L187.4 235.0L187.9 239.1L188.4 245.2L188.9 253.8L189.4 260.4L189.9 266.3L190.4 270.2L190.9 269.7L191.4 265.4L191.9 260.7L192.4 257.5L192.9 254.6L193.4 253.0L193.9 252.5L194.4 252.2L194.9 252.0L195.4 252.1L195.9 252.4L196.4 252.8L196.9 253.0L197.4 252.8L197.9 252.1L198.4 251.3L198.9 250.5L199.4 249.5L199.9 248.8L200.4 248.8L200.9 250.5L201.4 253.1L201.9 255.6L202.4 259.0L202.9 262.3L203.4 264.4L203.9 264.3L204.4 263.1L204.9 261.2L205.4 259.1L205.9 256.2L206.4 253.0L206.9 250.4L207.4 248.6L207.9 246.9L208.4 245.6L208.9 244.8L209.4 244.8L209.9 246.2L210.4 248.2L210.9 250.3L211.4 252.8L211.9 254.8L212.4 255.6L212.9 256.1L213.4 256.7L213.9 257.7L214.4 259.2L214.9 260.8L215.4 262.0L215.9 263.1L216.4 263.6L216.9 262.4L217.4 259.5L217.9 256.5L218.4 253.9L218.9 251.1L219.4 248.7L219.9 247.1L220.4 245.6L220.9 244.4L221.4 244.0L221.9 244.9L222.4 247.1L222.9 249.6L223.4 252.1L223.9 254.9L224.4 257.0L224.9 258.2L225.4 258.9L225.9 258.7L226.4 257.1L226.9 254.9L227.4 253.0L227.9 251.4L228.4 249.8L228.9 248.5L229.4 248.0L229.9 248.9L230.4 251.1L230.9 253.6L231.4 256.0L231.9 258.8L232.4 261.3L232.9 262.9L233.4 264.2L233.9 265.2L234.4 265.6L234.9 265.0L235.4 263.4L235.9 261.2L236.4 259.0L236.9 256.3L237.4 253.2L237.9 250.4L238.4 248.5L238.9 246.9L239.4 245.5L239.9 244.2L240.4 243.0L240.9 241.9L241.4 240.9L241.9 240.4L242.4 240.9L242.9 242.3L243.4 244.0L243.9 246.1L244.4 248.8L244.9 251.3L245.4 252.8L245.9 252.5L246.4 250.0L246.9 247.4L247.4 245.6L247.9 243.8L248.4 242.7L248.9 243.4L249.4 247.5L249.9 252.9L250.4 259.2L250.9 267.0L251.4 274.0L251.9 280.0L252.4 285.8L252.9 289.7L253.4 289.7L253.9 283.2L254.4 274.0L254.9 261.3L255.4 247.5L255.9 240.1L256.4 235.0L256.9 233.5L257.4 235.9L257.9 239.4L258.4 242.8L258.9 246.2L259.4 246.9L259.9 246.3L260.4 245.7L260.9 245.9L261.4 247.5L261.9 249.6L262.4 251.9L262.9 254.6L263.4 257.0L263.9 259.2L264.4 261.0L264.9 261.5L265.4 260.0L265.9 257.2L266.4 254.8L266.9 254.1L267.4 256.0L267.9 259.2L268.4 262.0L268.9 264.0L269.4 265.8L269.9 267.3L270.0 267.6" stroke="#4272d3" stroke-width="1.45" fill="none" stroke-linejoin="round" stroke-linecap="round" clip-path="url(#c5)"/>
<path d="M34.50 218.25V291.45M270.70 218.25V291.45" fill="none" stroke="#cdcdcd" stroke-width="0.82"/>
<path d="M34.10 218.70H271.10M34.10 291.00H271.10" fill="none" stroke="#cdcdcd" stroke-width="0.95"/>
<text transform="translate(28.70 221.20) scale(0.95 1)" text-anchor="end" font-size="7.6">2</text>
<text transform="translate(28.70 239.27) scale(0.95 1)" text-anchor="end" font-size="7.6">1</text>
<text transform="translate(28.70 257.35) scale(0.95 1)" text-anchor="end" font-size="7.6">0</text>
<text transform="translate(28.70 275.42) scale(0.95 1)" text-anchor="end" font-size="7.6">−1</text>
<text transform="translate(28.70 293.50) scale(0.95 1)" text-anchor="end" font-size="7.6">−2</text>
<text transform="translate(34.50 302.30) scale(0.95 1)" text-anchor="middle" font-size="7.6">0</text>
<text transform="translate(83.71 302.30) scale(0.95 1)" text-anchor="middle" font-size="7.6">50</text>
<text transform="translate(132.92 302.30) scale(0.95 1)" text-anchor="middle" font-size="7.6">100</text>
<text transform="translate(182.12 302.30) scale(0.95 1)" text-anchor="middle" font-size="7.6">150</text>
<text transform="translate(231.33 302.30) scale(0.95 1)" text-anchor="middle" font-size="7.6">200</text>
<text transform="translate(152.60 214.80) scale(1.0 1)" text-anchor="middle" class="t" font-size="7.85">Axle box 1 lateral acceleration</text>
<path d="M355.81 218.70V291.00M405.02 218.70V291.00M454.23 218.70V291.00M503.43 218.70V291.00" stroke="#cdcdcd" stroke-width="0.82" fill="none"/>
<path d="M306.60 236.77H542.80M306.60 254.85H542.80M306.60 272.92H542.80" stroke="#cdcdcd" stroke-width="0.95" fill="none"/>
<path d="M307.0 252.0L307.5 241.4L308.0 234.0L308.5 228.9L309.0 226.4L309.5 226.8L310.0 228.0L310.5 240.5L311.0 254.7L311.5 265.5L312.0 272.2L312.5 276.7L313.0 276.6L313.5 269.6L314.0 264.6L314.5 261.2L315.0 259.2L315.5 259.4L316.0 261.2L316.5 263.6L317.0 265.9L317.5 268.7L318.0 271.6L318.5 273.6L319.0 273.0L319.5 264.8L320.0 254.0L320.5 242.4L321.0 232.0L321.5 225.9L322.0 231.4L322.5 244.5L323.0 259.8L323.5 271.8L324.0 280.1L324.5 282.2L325.0 263.1L325.5 238.2L326.0 222.7L326.5 217.1L327.0 216.6L327.5 221.8L328.0 229.3L328.5 249.1L329.0 269.3L329.5 278.1L330.0 273.3L330.5 261.7L331.0 254.0L331.5 247.7L332.0 247.0L332.5 252.2L333.0 258.0L333.5 263.0L334.0 267.5L334.5 268.8L335.0 264.7L335.5 258.9L336.0 254.3L336.5 249.6L337.0 246.4L337.5 245.8L338.0 245.7L338.5 245.6L339.0 245.4L339.5 244.3L340.0 242.2L340.5 240.3L341.0 238.9L341.5 238.0L342.0 239.3L342.5 243.2L343.0 248.1L343.5 254.9L344.0 262.0L344.5 268.8L345.0 274.6L345.5 277.4L346.0 279.3L346.5 280.8L347.0 281.5L347.5 281.0L348.0 277.9L348.5 272.5L349.0 256.4L349.5 242.0L350.0 232.3L350.5 225.4L351.0 224.6L351.5 229.8L352.0 236.0L352.5 241.3L353.0 246.5L353.5 250.8L354.0 254.2L354.5 257.3L355.0 260.0L355.5 263.0L356.0 265.6L356.5 266.3L357.0 262.7L357.5 257.3L358.0 254.6L358.5 257.2L359.0 262.3L359.5 266.5L360.0 271.2L360.5 274.7L361.0 274.2L361.5 264.7L362.0 254.0L362.5 245.3L363.0 240.4L363.5 245.8L364.0 254.0L364.5 260.4L365.0 264.0L365.5 258.2L366.0 250.0L366.5 245.1L367.0 241.8L367.5 243.6L368.0 253.1L368.5 261.2L369.0 267.4L369.5 272.1L370.0 271.9L370.5 262.9L371.0 254.0L371.5 248.8L372.0 244.7L372.5 243.6L373.0 249.4L373.5 257.0L374.0 261.7L374.5 265.8L375.0 267.6L375.5 263.7L376.0 255.6L376.5 248.9L377.0 243.1L377.5 238.5L378.0 238.0L378.5 241.8L379.0 246.6L379.5 249.8L380.0 252.8L380.5 254.5L381.0 252.1L381.5 245.0L382.0 239.1L382.5 241.0L383.0 252.1L383.5 261.3L384.0 268.0L384.5 273.8L385.0 277.3L385.5 274.9L386.0 263.1L386.5 252.2L387.0 242.7L387.5 236.6L388.0 239.1L388.5 247.0L389.0 254.0L389.5 258.8L390.0 262.8L390.5 263.6L391.0 252.8L391.5 242.7L392.0 236.8L392.5 233.5L393.0 235.2L393.5 240.7L394.0 246.0L394.5 250.0L395.0 253.6L395.5 256.5L396.0 258.1L396.5 260.9L397.0 270.4L397.5 279.4L398.0 286.0L398.5 287.9L399.0 275.9L399.5 261.6L400.0 249.1L400.5 240.9L401.0 236.2L401.5 233.7L402.0 235.7L402.5 241.2L403.0 245.5L403.5 249.1L404.0 251.0L404.5 251.2L405.0 251.3L405.5 251.5L406.0 254.0L406.5 260.4L407.0 266.0L407.5 269.9L408.0 272.7L408.5 272.0L409.0 266.9L409.5 260.0L410.0 254.0L410.5 248.7L411.0 244.5L411.5 244.8L412.0 248.2L412.5 250.9L413.0 250.6L413.5 249.6L414.0 249.0L414.5 249.1L415.0 249.4L415.5 249.9L416.0 251.3L416.5 254.2L417.0 257.0L417.5 259.3L418.0 261.5L418.5 263.3L419.0 264.0L419.5 261.9L420.0 257.2L420.5 252.7L421.0 249.3L421.5 245.9L422.0 243.1L422.5 241.6L423.0 242.7L423.5 245.5L424.0 248.6L424.5 252.2L425.0 254.0L425.5 251.7L426.0 247.2L426.5 244.1L427.0 247.3L427.5 256.2L428.0 266.7L428.5 278.3L429.0 286.4L429.5 292.7L430.0 292.1L430.5 277.3L431.0 255.4L431.5 235.4L432.0 223.8L432.5 220.3L433.0 228.3L433.5 240.6L434.0 258.2L434.5 271.9L435.0 280.9L435.5 285.8L436.0 280.7L436.5 266.7L437.0 251.6L437.5 236.1L438.0 227.3L438.5 222.4L439.0 219.8L439.5 219.0L440.0 220.5L440.5 224.6L441.0 244.0L441.5 262.6L442.0 278.0L442.5 288.7L443.0 294.0L443.5 286.8L444.0 274.0L444.5 260.3L445.0 251.4L445.5 247.2L446.0 249.0L446.5 254.1L447.0 257.0L447.5 253.0L448.0 246.0L448.5 241.8L449.0 238.6L449.5 237.9L450.0 245.8L450.5 256.5L451.0 263.7L451.5 269.7L452.0 269.8L452.5 260.1L453.0 250.0L453.5 243.3L454.0 238.5L454.5 239.3L455.0 245.4L455.5 252.8L456.0 259.1L456.5 265.4L457.0 269.3L457.5 272.2L458.0 273.4L458.5 266.4L459.0 254.0L459.5 241.3L460.0 230.0L460.5 223.2L461.0 220.2L461.5 219.0L462.0 220.3L462.5 224.7L463.0 244.0L463.5 262.0L464.0 273.7L464.5 280.2L465.0 276.5L465.5 267.4L466.0 261.1L466.5 256.4L467.0 254.8L467.5 254.0L468.0 254.4L468.5 255.4L469.0 256.0L469.5 255.1L470.0 253.6L470.5 253.1L471.0 254.7L471.5 257.1L472.0 258.4L472.5 256.4L473.0 252.5L473.5 249.6L474.0 247.4L474.5 245.7L475.0 245.0L475.5 246.3L476.0 248.7L476.5 250.1L477.0 250.6L477.5 250.9L478.0 251.6L478.5 256.1L479.0 262.0L479.5 266.1L480.0 269.5L480.5 270.4L481.0 264.7L481.5 257.1L482.0 251.9L482.5 246.9L483.0 243.7L483.5 244.2L484.0 247.5L484.5 250.5L485.0 252.9L485.5 254.1L486.0 254.2L486.5 254.3L487.0 254.4L487.5 254.7L488.0 257.3L488.5 260.5L489.0 262.8L489.5 264.9L490.0 266.3L490.5 266.0L491.0 264.0L491.5 261.3L492.0 259.0L492.5 257.3L493.0 255.7L493.5 254.3L494.0 253.0L494.5 251.7L495.0 250.4L495.5 249.4L496.0 249.0L496.5 249.3L497.0 250.0L497.5 250.5L498.0 250.6L498.5 250.7L499.0 251.0L499.5 255.1L500.0 262.0L500.5 266.3L501.0 270.0L501.5 271.9L502.0 267.5L502.5 256.0L503.0 245.2L503.5 235.2L504.0 230.4L504.5 227.7L505.0 229.9L505.5 236.6L506.0 246.8L506.5 258.7L507.0 263.9L507.5 267.3L508.0 267.8L508.5 265.9L509.0 263.1L509.5 260.0L510.0 256.1L510.5 253.7L511.0 252.6L511.5 252.0L512.0 252.3L512.5 253.1L513.0 254.0L513.5 255.2L514.0 256.5L514.5 256.9L515.0 253.2L515.5 248.6L516.0 246.0L516.5 244.0L517.0 244.6L517.5 252.8L518.0 261.0L518.5 268.8L519.0 273.5L519.5 276.7L520.0 278.0L520.5 274.4L521.0 266.9L521.5 259.3L522.0 250.4L522.5 242.6L523.0 236.0L523.5 230.8L524.0 227.2L524.5 224.2L525.0 223.0L525.5 233.8L526.0 251.1L526.5 269.8L527.0 278.6L527.5 281.1L528.0 269.4L528.5 255.5L529.0 244.0L529.5 240.4L530.0 239.0L530.5 246.9L531.0 258.0L531.5 264.6L532.0 268.0L532.5 258.0L533.0 245.8L533.5 236.9L534.0 233.6L534.5 231.7L535.0 232.6L535.5 241.9L536.0 251.8L536.5 261.8L537.0 267.9L537.5 271.9L538.0 273.6L538.5 265.4L539.0 253.3L539.5 241.4L540.0 235.8L540.5 232.1L541.0 232.6L541.5 241.8L542.0 257.1L542.5 272.5L542.8 280.0" stroke="#4272d3" stroke-width="1.45" fill="none" stroke-linejoin="round" stroke-linecap="round" clip-path="url(#c6)"/>
<path d="M306.60 218.25V291.45M542.80 218.25V291.45" fill="none" stroke="#cdcdcd" stroke-width="0.82"/>
<path d="M306.20 218.70H543.20M306.20 291.00H543.20" fill="none" stroke="#cdcdcd" stroke-width="0.95"/>
<text transform="translate(300.80 221.20) scale(0.95 1)" text-anchor="end" font-size="7.6">10</text>
<text transform="translate(300.80 239.27) scale(0.95 1)" text-anchor="end" font-size="7.6">5</text>
<text transform="translate(300.80 257.35) scale(0.95 1)" text-anchor="end" font-size="7.6">0</text>
<text transform="translate(300.80 275.42) scale(0.95 1)" text-anchor="end" font-size="7.6">−5</text>
<text transform="translate(300.80 293.50) scale(0.95 1)" text-anchor="end" font-size="7.6">−10</text>
<text transform="translate(306.60 302.30) scale(0.95 1)" text-anchor="middle" font-size="7.6">0</text>
<text transform="translate(355.81 302.30) scale(0.95 1)" text-anchor="middle" font-size="7.6">50</text>
<text transform="translate(405.02 302.30) scale(0.95 1)" text-anchor="middle" font-size="7.6">100</text>
<text transform="translate(454.23 302.30) scale(0.95 1)" text-anchor="middle" font-size="7.6">150</text>
<text transform="translate(503.43 302.30) scale(0.95 1)" text-anchor="middle" font-size="7.6">200</text>
<text transform="translate(424.70 214.80) scale(1.0 1)" text-anchor="middle" class="t" font-size="7.85">Axle box 1 vertical acceleration</text>
<path d="M83.71 321.30V393.60M132.92 321.30V393.60M182.12 321.30V393.60M231.33 321.30V393.60" stroke="#cdcdcd" stroke-width="0.82" fill="none"/>
<path d="M34.50 328.53H270.70M34.50 342.99H270.70M34.50 357.45H270.70M34.50 371.91H270.70M34.50 386.37H270.70" stroke="#cdcdcd" stroke-width="0.95" fill="none"/>
<path d="M34.5 362.3L35.0 362.0L35.5 361.7L36.0 361.4L36.5 361.2L37.0 360.9L37.5 360.7L38.0 360.5L38.5 360.3L39.0 360.1L39.5 360.0L40.0 359.8L40.5 359.7L41.0 359.6L41.5 359.4L42.0 359.3L42.5 359.2L43.0 359.1L43.5 358.9L44.0 358.8L44.5 358.7L45.0 358.6L45.5 358.5L46.0 358.3L46.5 358.1L47.0 357.9L47.5 357.7L48.0 357.4L48.5 357.2L49.0 356.9L49.5 356.7L50.0 356.5L50.5 356.3L51.0 356.2L51.5 356.0L52.0 355.9L52.5 355.7L53.0 355.6L53.5 355.4L54.0 355.3L54.5 355.1L55.0 355.0L55.5 354.9L56.0 354.7L56.5 354.6L57.0 354.4L57.5 354.2L58.0 354.1L58.5 353.9L59.0 353.8L59.5 353.6L60.0 353.5L60.5 353.3L61.0 353.2L61.5 353.0L62.0 352.9L62.5 352.7L63.0 352.6L63.5 352.4L64.0 352.3L64.5 352.1L65.0 352.0L65.5 351.9L66.0 351.7L66.5 351.5L67.0 351.4L67.5 351.2L68.0 351.1L68.5 350.9L69.0 350.8L69.5 350.8L70.0 350.7L70.5 350.7L71.0 350.6L71.5 350.6L72.0 350.6L72.5 350.6L73.0 350.6L73.5 350.6L74.0 350.6L74.5 350.5L75.0 350.5L75.5 350.4L76.0 350.4L76.5 350.3L77.0 350.1L77.5 350.0L78.0 349.8L78.5 349.7L79.0 349.5L79.5 349.4L80.0 349.2L80.5 349.0L81.0 348.9L81.5 348.7L82.0 348.5L82.5 348.4L83.0 348.2L83.5 348.0L84.0 347.8L84.5 347.7L85.0 347.5L85.5 347.3L86.0 347.2L86.5 347.0L87.0 346.9L87.5 346.7L88.0 346.6L88.5 346.4L89.0 346.3L89.5 346.1L90.0 346.0L90.5 345.9L91.0 345.7L91.5 345.6L92.0 345.5L92.5 345.3L93.0 345.2L93.5 345.1L94.0 345.0L94.5 344.8L95.0 344.7L95.5 344.6L96.0 344.5L96.5 344.4L97.0 344.2L97.5 344.1L98.0 344.0L98.5 343.9L99.0 343.8L99.5 343.7L100.0 343.5L100.5 343.3L101.0 343.1L101.5 342.9L102.0 342.7L102.5 342.5L103.0 342.2L103.5 341.9L104.0 341.5L104.5 341.2L105.0 340.8L105.5 340.4L106.0 340.2L106.5 340.0L107.0 339.9L107.5 339.8L108.0 339.7L108.5 339.7L109.0 339.6L109.5 339.6L110.0 339.6L110.5 339.6L111.0 339.6L111.5 339.7L112.0 339.7L112.5 339.7L113.0 339.8L113.5 339.8L114.0 339.8L114.5 339.8L115.0 339.6L115.5 339.5L116.0 339.3L116.5 339.1L117.0 338.8L117.5 338.7L118.0 338.5L118.5 338.4L119.0 338.2L119.5 338.1L120.0 338.0L120.5 337.9L121.0 337.8L121.5 337.8L122.0 337.8L122.5 337.9L123.0 337.9L123.5 338.0L124.0 338.1L124.5 338.2L125.0 338.3L125.5 338.4L126.0 338.5L126.5 338.6L127.0 338.6L127.5 338.7L128.0 338.7L128.5 338.7L129.0 338.6L129.5 338.5L130.0 338.3L130.5 338.2L131.0 338.0L131.5 337.9L132.0 337.8L132.5 337.7L133.0 337.7L133.5 337.7L134.0 337.7L134.5 337.6L135.0 337.6L135.5 337.6L136.0 337.6L136.5 337.6L137.0 337.6L137.5 337.6L138.0 337.7L138.5 337.7L139.0 337.7L139.5 337.8L140.0 337.8L140.5 337.8L141.0 337.7L141.5 337.6L142.0 337.5L142.5 337.4L143.0 337.2L143.5 337.1L144.0 336.9L144.5 336.8L145.0 336.7L145.5 336.6L146.0 336.5L146.5 336.4L147.0 336.3L147.5 336.2L148.0 336.1L148.5 336.0L149.0 335.9L149.5 335.9L150.0 335.8L150.5 335.7L151.0 335.7L151.5 335.6L152.0 335.5L152.5 335.5L153.0 335.5L153.5 335.5L154.0 335.6L154.5 335.7L155.0 335.8L155.5 335.9L156.0 336.0L156.5 336.1L157.0 336.3L157.5 336.5L158.0 336.7L158.5 336.9L159.0 337.1L159.5 337.2L160.0 337.3L160.5 337.4L161.0 337.4L161.5 337.4L162.0 337.5L162.5 337.5L163.0 337.5L163.5 337.5L164.0 337.4L164.5 337.4L165.0 337.3L165.5 337.2L166.0 337.0L166.5 336.9L167.0 336.8L167.5 336.8L168.0 336.7L168.5 336.7L169.0 336.8L169.5 336.9L170.0 337.1L170.5 337.3L171.0 337.5L171.5 337.7L172.0 337.9L172.5 338.2L173.0 338.4L173.5 338.7L174.0 338.9L174.5 339.1L175.0 339.2L175.5 339.3L176.0 339.4L176.5 339.5L177.0 339.6L177.5 339.6L178.0 339.7L178.5 339.8L179.0 339.8L179.5 339.9L180.0 340.0L180.5 340.1L181.0 340.2L181.5 340.3L182.0 340.5L182.5 340.7L183.0 341.0L183.5 341.3L184.0 341.7L184.5 342.0L185.0 342.4L185.5 342.6L186.0 342.8L186.5 342.9L187.0 343.0L187.5 343.1L188.0 343.2L188.5 343.3L189.0 343.3L189.5 343.4L190.0 343.5L190.5 343.6L191.0 343.7L191.5 343.8L192.0 344.0L192.5 344.1L193.0 344.2L193.5 344.4L194.0 344.5L194.5 344.7L195.0 344.8L195.5 345.0L196.0 345.1L196.5 345.3L197.0 345.5L197.5 345.6L198.0 345.8L198.5 346.0L199.0 346.2L199.5 346.3L200.0 346.5L200.5 346.7L201.0 346.8L201.5 347.0L202.0 347.1L202.5 347.3L203.0 347.4L203.5 347.6L204.0 347.7L204.5 347.9L205.0 348.0L205.5 348.2L206.0 348.3L206.5 348.5L207.0 348.6L207.5 348.8L208.0 348.9L208.5 349.1L209.0 349.2L209.5 349.4L210.0 349.5L210.5 349.6L211.0 349.8L211.5 349.9L212.0 350.0L212.5 350.1L213.0 350.3L213.5 350.4L214.0 350.5L214.5 350.7L215.0 350.8L215.5 351.0L216.0 351.1L216.5 351.3L217.0 351.5L217.5 351.7L218.0 351.8L218.5 352.0L219.0 352.2L219.5 352.4L220.0 352.5L220.5 352.6L221.0 352.8L221.5 352.9L222.0 353.0L222.5 353.1L223.0 353.3L223.5 353.4L224.0 353.5L224.5 353.6L225.0 353.7L225.5 353.8L226.0 353.9L226.5 354.0L227.0 354.1L227.5 354.2L228.0 354.3L228.5 354.4L229.0 354.5L229.5 354.6L230.0 354.7L230.5 354.8L231.0 355.0L231.5 355.1L232.0 355.2L232.5 355.3L233.0 355.4L233.5 355.6L234.0 355.7L234.5 355.8L235.0 356.0L235.5 356.2L236.0 356.4L236.5 356.7L237.0 357.0L237.5 357.3L238.0 357.5L238.5 357.8L239.0 358.0L239.5 358.2L240.0 358.4L240.5 358.6L241.0 358.8L241.5 359.0L242.0 359.1L242.5 359.2L243.0 359.3L243.5 359.3L244.0 359.4L244.5 359.4L245.0 359.4L245.5 359.5L246.0 359.5L246.5 359.5L247.0 359.5L247.5 359.5L248.0 359.5L248.5 359.4L249.0 359.4L249.5 359.3L250.0 359.3L250.5 359.3L251.0 359.2L251.5 359.1L252.0 359.1L252.5 359.0L253.0 359.0L253.5 359.0L254.0 359.1L254.5 359.3L255.0 359.7L255.5 360.1L256.0 360.4L256.5 360.8L257.0 361.0L257.5 361.2L258.0 361.3L258.5 361.4L259.0 361.5L259.5 361.6L260.0 361.7L260.5 361.8L261.0 361.8L261.5 361.9L262.0 361.9L262.5 362.0L263.0 362.0L263.5 362.0L264.0 362.1L264.5 362.1L265.0 362.2L265.5 362.3L266.0 362.3L266.5 362.4L267.0 362.5L267.5 362.6L268.0 362.7L268.5 362.8L269.0 362.9L269.5 363.0L270.0 363.1L270.5 363.3L270.7 363.3" stroke="#4272d3" stroke-width="1.45" fill="none" stroke-linejoin="round" stroke-linecap="round" clip-path="url(#c7)"/>
<path d="M34.50 320.85V394.05M270.70 320.85V394.05" fill="none" stroke="#cdcdcd" stroke-width="0.82"/>
<path d="M34.10 321.30H271.10M34.10 393.60H271.10" fill="none" stroke="#cdcdcd" stroke-width="0.95"/>
<text transform="translate(28.70 331.03) scale(0.95 1)" text-anchor="end" font-size="7.6">0.004</text>
<text transform="translate(28.70 345.49) scale(0.95 1)" text-anchor="end" font-size="7.6">0.002</text>
<text transform="translate(28.70 359.95) scale(0.95 1)" text-anchor="end" font-size="7.6">0.000</text>
<text transform="translate(28.70 374.41) scale(0.95 1)" text-anchor="end" font-size="7.6">−0.002</text>
<text transform="translate(28.70 388.87) scale(0.95 1)" text-anchor="end" font-size="7.6">−0.004</text>
<text transform="translate(34.50 404.90) scale(0.95 1)" text-anchor="middle" font-size="7.6">0</text>
<text transform="translate(83.71 404.90) scale(0.95 1)" text-anchor="middle" font-size="7.6">50</text>
<text transform="translate(132.92 404.90) scale(0.95 1)" text-anchor="middle" font-size="7.6">100</text>
<text transform="translate(182.12 404.90) scale(0.95 1)" text-anchor="middle" font-size="7.6">150</text>
<text transform="translate(231.33 404.90) scale(0.95 1)" text-anchor="middle" font-size="7.6">200</text>
<text transform="translate(152.60 317.40) scale(1.0 1)" text-anchor="middle" class="t" font-size="7.85">Wheelset 1 lateral movement</text>
<path d="M355.81 321.30V393.60M405.02 321.30V393.60M454.23 321.30V393.60M503.43 321.30V393.60" stroke="#cdcdcd" stroke-width="0.82" fill="none"/>
<path d="M306.60 339.38H542.80M306.60 357.45H542.80M306.60 375.52H542.80" stroke="#cdcdcd" stroke-width="0.95" fill="none"/>
<path d="M307.0 362.4L307.5 361.7L308.0 361.1L308.5 360.5L309.0 360.0L309.5 359.5L310.0 359.1L310.5 358.7L311.0 358.5L311.5 358.4L312.0 358.6L312.5 359.0L313.0 359.3L313.5 359.4L314.0 359.2L314.5 359.0L315.0 358.6L315.5 358.3L316.0 358.0L316.5 357.7L317.0 357.5L317.5 357.4L318.0 358.3L318.5 359.7L319.0 361.0L319.5 362.1L320.0 363.3L320.5 364.3L321.0 364.9L321.5 364.6L322.0 362.7L322.5 360.4L323.0 358.3L323.5 355.9L324.0 354.0L324.5 353.4L325.0 353.8L325.5 354.4L326.0 355.0L326.5 355.7L327.0 356.5L327.5 357.0L328.0 356.8L328.5 356.1L329.0 355.4L329.5 355.0L330.0 355.1L330.5 355.4L331.0 355.8L331.5 356.0L332.0 356.0L332.5 356.0L333.0 356.0L333.5 356.0L334.0 356.7L334.5 357.8L335.0 359.0L335.5 360.2L336.0 361.6L336.5 362.8L337.0 363.5L337.5 363.5L338.0 363.0L338.5 362.2L339.0 361.4L339.5 360.5L340.0 359.4L340.5 358.2L341.0 357.0L341.5 355.7L342.0 354.4L342.5 353.1L343.0 352.0L343.5 351.0L344.0 350.0L344.5 349.1L345.0 348.6L345.5 348.4L346.0 348.6L346.5 349.0L347.0 349.6L347.5 350.1L348.0 350.9L348.5 351.8L349.0 352.7L349.5 353.5L350.0 354.4L350.5 355.1L351.0 355.4L351.5 355.1L352.0 354.3L352.5 353.3L353.0 352.6L353.5 352.1L354.0 351.5L354.5 351.2L355.0 351.0L355.5 351.3L356.0 352.1L356.5 353.0L357.0 354.0L357.5 355.0L358.0 356.0L358.5 357.1L359.0 358.0L359.5 358.7L360.0 359.3L360.5 359.9L361.0 360.6L361.5 361.4L362.0 362.4L362.5 363.3L363.0 364.0L363.5 364.5L364.0 365.1L364.5 365.5L365.0 365.8L365.5 366.0L366.0 365.8L366.5 365.1L367.0 364.2L367.5 363.2L368.0 362.1L368.5 360.8L369.0 359.5L369.5 358.6L370.0 358.5L370.5 359.2L371.0 360.5L371.5 361.8L372.0 362.9L372.5 364.2L373.0 365.5L373.5 366.8L374.0 367.9L374.5 369.0L375.0 370.0L375.5 370.9L376.0 371.5L376.5 372.2L377.0 372.8L377.5 373.2L378.0 373.5L378.5 373.6L379.0 373.5L379.5 373.3L380.0 373.0L380.5 372.7L381.0 372.2L381.5 371.3L382.0 370.2L382.5 369.2L383.0 368.1L383.5 366.8L384.0 365.6L384.5 364.8L385.0 364.6L385.5 365.0L386.0 365.6L386.5 366.2L387.0 366.4L387.5 366.2L388.0 365.6L388.5 364.9L389.0 364.4L389.5 364.2L390.0 364.3L390.5 364.4L391.0 364.6L391.5 364.6L392.0 364.5L392.5 364.3L393.0 364.0L393.5 363.4L394.0 362.5L394.5 361.5L395.0 360.6L395.5 359.8L396.0 358.9L396.5 358.1L397.0 357.3L397.5 356.7L398.0 356.4L398.5 356.5L399.0 356.9L399.5 357.5L400.0 358.0L400.5 358.6L401.0 359.2L401.5 359.6L402.0 359.5L402.5 359.1L403.0 358.5L403.5 358.1L404.0 357.7L404.5 357.4L405.0 357.1L405.5 356.8L406.0 356.6L406.5 356.6L407.0 356.6L407.5 356.7L408.0 356.9L408.5 357.0L409.0 357.4L409.5 357.9L410.0 358.4L410.5 358.8L411.0 359.2L411.5 359.5L412.0 359.9L412.5 360.3L413.0 360.8L413.5 361.4L414.0 361.9L414.5 362.2L415.0 362.1L415.5 361.6L416.0 360.9L416.5 360.1L417.0 359.4L417.5 358.8L418.0 358.6L418.5 359.0L419.0 359.9L419.5 361.0L420.0 362.0L420.5 363.0L421.0 364.1L421.5 365.0L422.0 365.5L422.5 365.5L423.0 365.0L423.5 364.1L424.0 363.2L424.5 362.2L425.0 361.2L425.5 360.1L426.0 359.0L426.5 357.9L427.0 357.0L427.5 356.2L428.0 355.3L428.5 354.6L429.0 354.1L429.5 354.0L430.0 354.4L430.5 355.1L431.0 355.8L431.5 356.3L432.0 356.3L432.5 355.8L433.0 354.9L433.5 353.9L434.0 353.0L434.5 352.6L435.0 352.9L435.5 353.8L436.0 355.2L436.5 356.7L437.0 358.0L437.5 359.3L438.0 360.8L438.5 362.2L439.0 363.1L439.5 363.4L440.0 362.5L440.5 360.9L441.0 359.1L441.5 357.8L442.0 356.5L442.5 355.5L443.0 355.0L443.5 355.5L444.0 356.7L444.5 357.8L445.0 358.6L445.5 359.4L446.0 359.9L446.5 359.9L447.0 359.4L447.5 358.7L448.0 357.9L448.5 357.1L449.0 356.5L449.5 355.7L450.0 355.0L450.5 354.4L451.0 354.0L451.5 353.8L452.0 353.8L452.5 353.7L453.0 353.6L453.5 353.4L454.0 353.0L454.5 352.1L455.0 351.0L455.5 350.1L456.0 349.5L456.5 348.9L457.0 348.5L457.5 348.4L458.0 349.1L458.5 350.5L459.0 352.0L459.5 353.2L460.0 354.5L460.5 355.8L461.0 356.9L461.5 357.4L462.0 356.6L462.5 354.3L463.0 352.0L463.5 350.0L464.0 348.2L464.5 347.6L465.0 348.5L465.5 350.0L466.0 351.5L466.5 352.7L467.0 354.0L467.5 355.2L468.0 356.1L468.5 356.6L469.0 356.5L469.5 356.1L470.0 355.5L470.5 355.1L471.0 354.7L471.5 354.4L472.0 354.1L472.5 354.0L473.0 354.2L473.5 354.7L474.0 355.3L474.5 355.6L475.0 355.4L475.5 354.8L476.0 353.8L476.5 352.8L477.0 352.0L477.5 351.2L478.0 350.4L478.5 349.6L479.0 348.9L479.5 348.5L480.0 348.4L480.5 348.8L481.0 349.5L481.5 350.2L482.0 350.9L482.5 351.6L483.0 352.4L483.5 352.9L484.0 353.0L484.5 352.5L485.0 351.8L485.5 351.1L486.0 350.6L486.5 350.3L487.0 350.1L487.5 349.8L488.0 349.7L488.5 349.6L489.0 349.6L489.5 349.6L490.0 349.7L490.5 349.8L491.0 349.9L491.5 349.9L492.0 350.0L492.5 350.1L493.0 350.2L493.5 350.3L494.0 350.4L494.5 350.5L495.0 350.5L495.5 350.6L496.0 350.6L496.5 350.5L497.0 350.2L497.5 349.9L498.0 349.4L498.5 349.1L499.0 348.7L499.5 348.2L500.0 347.8L500.5 347.6L501.0 347.9L501.5 348.9L502.0 350.2L502.5 351.2L503.0 352.2L503.5 353.0L504.0 353.4L504.5 353.3L505.0 353.0L505.5 350.4L506.0 349.1L506.5 348.1L507.0 347.4L507.5 347.0L508.0 346.9L508.5 346.8L509.0 346.8L509.5 346.7L510.0 346.6L510.5 346.3L511.0 345.8L511.5 345.1L512.0 344.6L512.5 344.1L513.0 343.5L513.5 343.0L514.0 342.7L514.5 342.6L515.0 343.0L515.5 343.6L516.0 344.2L516.5 344.7L517.0 344.9L517.5 345.1L518.0 345.3L518.5 345.5L519.0 346.0L519.5 346.7L520.0 347.7L520.5 348.9L521.0 350.9L521.5 353.5L522.0 356.0L522.5 358.4L523.0 361.0L523.5 363.2L524.0 364.5L524.5 364.3L525.0 363.0L525.5 361.0L526.0 359.0L526.5 356.6L527.0 354.1L527.5 352.9L528.0 352.4L528.5 352.1L529.0 352.1L529.5 352.6L530.0 353.0L530.5 352.6L531.0 351.7L531.5 350.8L532.0 349.9L532.5 349.0L533.0 348.0L533.5 347.2L534.0 346.4L534.5 345.5L535.0 344.7L535.5 344.0L536.0 343.5L536.5 343.2L537.0 343.4L537.5 344.1L538.0 345.1L538.5 346.2L539.0 348.0L539.5 349.7L540.0 351.1L540.5 352.2L541.0 352.2L541.5 350.7L542.0 349.0L542.5 347.7L542.8 347.0" stroke="#4272d3" stroke-width="1.45" fill="none" stroke-linejoin="round" stroke-linecap="round" clip-path="url(#c8)"/>
<path d="M306.60 320.85V394.05M542.80 320.85V394.05" fill="none" stroke="#cdcdcd" stroke-width="0.82"/>
<path d="M306.20 321.30H543.20M306.20 393.60H543.20" fill="none" stroke="#cdcdcd" stroke-width="0.95"/>
<text transform="translate(300.80 323.80) scale(0.95 1)" text-anchor="end" font-size="7.6">0.002</text>
<text transform="translate(300.80 341.88) scale(0.95 1)" text-anchor="end" font-size="7.6">0.001</text>
<text transform="translate(300.80 359.95) scale(0.95 1)" text-anchor="end" font-size="7.6">0.000</text>
<text transform="translate(300.80 378.02) scale(0.95 1)" text-anchor="end" font-size="7.6">−0.001</text>
<text transform="translate(300.80 396.10) scale(0.95 1)" text-anchor="end" font-size="7.6">−0.002</text>
<text transform="translate(306.60 404.90) scale(0.95 1)" text-anchor="middle" font-size="7.6">0</text>
<text transform="translate(355.81 404.90) scale(0.95 1)" text-anchor="middle" font-size="7.6">50</text>
<text transform="translate(405.02 404.90) scale(0.95 1)" text-anchor="middle" font-size="7.6">100</text>
<text transform="translate(454.23 404.90) scale(0.95 1)" text-anchor="middle" font-size="7.6">150</text>
<text transform="translate(503.43 404.90) scale(0.95 1)" text-anchor="middle" font-size="7.6">200</text>
<text transform="translate(424.70 317.40) scale(1.0 1)" text-anchor="middle" class="t" font-size="7.85">Primary suspension relative movement</text>
</svg>
</body></html>
